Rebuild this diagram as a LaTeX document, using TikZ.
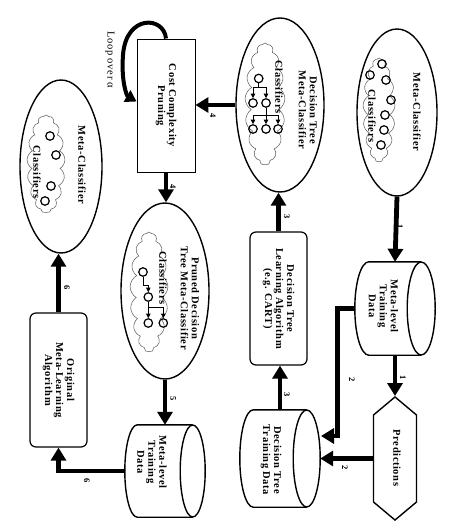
\documentclass[tikz,border=0pt]{standalone}
\usepackage{fontspec}
\setmainfont{Liberation Serif}
\newfontfamily\dfont[LetterSpace=6]{Liberation Serif}
\usetikzlibrary{shapes.geometric,shapes.symbols,arrows.meta,calc}
\newcommand\drawcyl[3]{%
  \draw[cylline] ($(#1.north east)+(-#2,0)$) -- ($(#1.north west)+(#2,0)$)
    .. controls ($(#1.north west)+({#2*0.4477},0)$) and ($(#1.west)!0.5523!(#1.north west)$) .. (#1.west)
    .. controls ($(#1.west)!0.5523!(#1.south west)$) and ($(#1.south west)+({#2*0.4477},0)$) .. ($(#1.south west)+(#2,0)$)
    -- ($(#1.south east)+(-#2,0)$);
  \draw[cylline] ($(#1.east)+(-#2,0)$) ellipse [x radius=#2, y radius=#3];
}
\begin{document}
\begin{tikzpicture}[x=1pt,y=-1pt,
  dtxt/.style={rotate=-90, align=center, inner sep=0pt, font=\dfont\bfseries\fontsize{10.5}{11}\selectfont},
  ltxt/.style={rotate=-90, align=center, inner sep=0pt, font=\dfont\fontsize{10.5}{11}\selectfont},
  lab/.style={rotate=-90, inner sep=0pt, font=\bfseries\fontsize{8.5}{9}\selectfont},
  ell/.style={ellipse, draw, line width=1.4pt, inner sep=0pt},
  cl/.style={cloud, draw=black!65, line width=0.5pt, cloud puffs=17, cloud puff arc=120, cloud ignores aspect, inner sep=0pt},
  circ/.style={circle, draw, line width=1.2pt, minimum size=8.5pt, inner sep=0pt},
  rbox/.style={draw, rotate=-90, rounded corners=6pt, line width=1.2pt, inner sep=0pt, align=center, font=\dfont\bfseries\fontsize{10.5}{11}\selectfont},
  pbox/.style={draw, rotate=-90, line width=0.9pt, inner sep=0pt, align=center, font=\dfont\bfseries\fontsize{10.5}{11}\selectfont},
  cylbody/.style={rectangle, inner sep=0pt},
  cylline/.style={line width=1.4pt},
  arr/.style={line width=4.8pt, -{Triangle[width=15pt,length=13pt]}},
  loopar/.style={line width=4pt, -{Triangle[width=13pt,length=11pt]}},
  tarr/.style={line width=0.8pt, -{Triangle[width=4.5pt,length=4.5pt]}}
]
\fill[white] (0,0) rectangle (474,529);
\useasboundingbox (0,0) rectangle (474,529);

% ---- right Meta-Classifier
\node[ell, minimum width=80pt, minimum height=167pt] (mcR) at (397,112.5) {};
\node[cl, minimum width=32pt, minimum height=104pt] (mcRc) at (379,110) {};
\node[circ] (mcR1) at (382,64) {};
\node[circ] (mcR2) at (370,75) {};
\node[circ] (mcR3) at (386,80) {};
\node[circ] (mcR4) at (391,100) {};
\node[circ] (mcR5) at (385,115) {};
\node[circ] (mcR6) at (384,130) {};
\node[circ] (mcR7) at (381,145) {};
\node[dtxt] (mcRt) at (417,112) {Meta-Classifier};
\node[dtxt] (mcRs) at (372,116) {Classifiers};

% ---- Decision Tree Meta-Classifier
\node[ell, minimum width=88pt, minimum height=174pt] (dtmc) at (280,105) {};
\node[cl, minimum width=40pt, minimum height=122pt] (dtmcc) at (265,104) {};
\node[circ] (dr) at (258.7,78.5) {};
\node[circ] (dc1) at (253,103) {};
\node[circ] (dc2) at (266,103) {};
\node[circ] (dg1) at (253,129) {};
\node[circ] (dg2) at (266,129) {};
\node[circ] (dg3) at (278,129) {};
\draw[tarr] (dr.south) -- ++(0,4.5) -| (dc1.north);
\draw[tarr] (dr.south) -- ++(0,4.5) -| (dc2.north);
\draw[tarr] (dc2.south) -- ++(0,8) -| (dg1.north);
\draw[tarr] (dc2.south) -- (dg2.north);
\draw[tarr] (dc2.south) -- ++(0,8) -| (dg3.north);
\node[dtxt] (dtmct) at (308,110) {Decision Tree\\Meta-Classifier};
\node[dtxt] (dtmcs) at (279,87) {Classifiers};

% ---- Pruned Decision Tree Meta-Classifier
\node[ell, minimum width=88pt, minimum height=176pt] (prdt) at (165,291) {};
\node[cl, minimum width=38pt, minimum height=120pt] (prdtc) at (149,292) {};
\node[circ] (pr) at (143,272) {};
\node[circ] (pc) at (148.3,297) {};
\node[circ] (pg1) at (148.3,323) {};
\node[circ] (pg2) at (163.3,323) {};
\draw[tarr] (pr.south) -- ++(0,9) -| (pc.north);
\draw[tarr] (pc.south) -- (pg1.north);
\draw[tarr] (pc.south) -- ++(0,6) -| (pg2.north);
\node[dtxt] (prdtt) at (190,298) {Pruned Decision\\Tree Meta-Classifier};
\node[dtxt] (prdts) at (163,278) {Classifiers};

% ---- left Meta-Classifier
\node[ell, minimum width=82pt, minimum height=173pt] (mcL) at (61,166.5) {};
\node[cl, minimum width=38pt, minimum height=98pt] (mcLc) at (46,164) {};
\node[circ] (mcL1) at (50,136) {};
\node[circ] (mcL2) at (56,155) {};
\node[circ] (mcL3) at (51,186) {};
\node[circ] (mcL4) at (45,201) {};
\node[dtxt] (mcLt) at (82,165) {Meta-Classifier};
\node[dtxt] (mcLs) at (37,172) {Classifiers};

% ---- boxes
\node[pbox, minimum width=133pt, minimum height=58pt] (cc) at (166,105.5) {Cost Complexity\\Pruning};
\node[ltxt] (loopt) at (110,60) {Loop over α};
\node[rbox, minimum width=133pt, minimum height=57pt] (dtla) at (278.5,298.5) {Decision Tree\\Learning Algorithm\\(e.g. CART)};
\node[rbox, minimum width=134pt, minimum height=57pt] (orig) at (58.5,380) {Original\\Meta-Learning\\Algorithm};

% ---- cylinders
\node[cylbody, minimum width=80pt, minimum height=93pt] (mltdR) at (395,308.5) {};
\drawcyl{mltdR}{14}{46.5}
\node[dtxt] (mltdRt) at (383.5,306) {Meta-level\\Training\\Data};
\node[cylbody, minimum width=80pt, minimum height=97pt] (dttd) at (280,458.5) {};
\drawcyl{dttd}{13.5}{48.5}
\node[dtxt] (dttdt) at (271,460) {Decision Tree\\Training Data};
\node[cylbody, minimum width=80pt, minimum height=92pt] (mltdM) at (165,471) {};
\drawcyl{mltdM}{12.5}{46}
\node[dtxt] (mltdMt) at (152,462) {Meta-level\\Training\\Data};

% ---- predictions
\node[signal, draw, line width=1.4pt, signal to=north and south, signal pointer angle=100, minimum width=43pt, minimum height=87pt, inner sep=0pt] (pred) at (395,458.5) {};
\node[dtxt] (predt) at (397,458) {Predictions};

% ---- connectors
\draw[arr] (mcR.south) -- (mltdR.north);
\draw[arr] (mltdR.south) -- (pred.north);
\draw[arr] (pred.west) -- (pred.west -| dttd.east);
\coordinate (e2) at (321,436);
\draw[arr] (mltdR.west) -- ++(-17,0) |- (e2);
\draw[arr] (dttd.north) -- (dttd.north |- dtla.east);
\draw[arr] (dtla.west) -- (dtla.west |- dtmc.south);
\draw[arr] (dtmc.west) -- (dtmc.west -| cc.north);
\draw[arr] (cc.east) -- (cc.east |- prdt.north);
\draw[arr] (prdt.south) -- (mltdM.north);
\draw[arr] (mltdM.west) -| (orig.east);
\draw[arr] (orig.west) -- (orig.west |- mcL.south);
\draw[loopar] (cc.west) .. controls (164,16) and (126,14) .. (123,55) .. controls (121,82) and (127,96) .. ($(cc.south)+(0,-4)$);

% ---- labels
\node[lab] (l1a) at (400,227) {1};
\node[lab] (l1b) at (403,378) {1};
\node[lab] (l2a) at (352,380) {2};
\node[lab] (l2b) at (345,468) {2};
\node[lab] (l3a) at (287,395) {3};
\node[lab] (l3b) at (287,217) {3};
\node[lab] (l4a) at (213,116) {4};
\node[lab] (l4b) at (173,187) {4};
\node[lab] (l5) at (173,399) {5};
\node[lab] (l6a) at (87,481) {6};
\node[lab] (l6b) at (67,288) {6};
\end{tikzpicture}
\end{document}
